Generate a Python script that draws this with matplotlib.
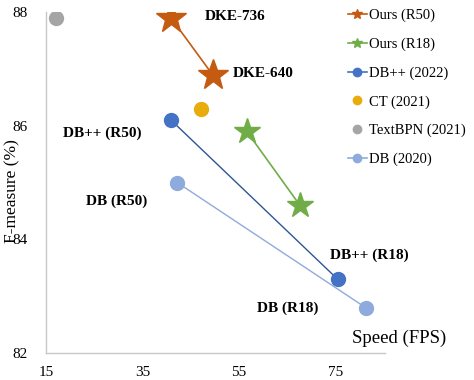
import matplotlib
matplotlib.use("Agg")
import matplotlib.pyplot as plt
from matplotlib.lines import Line2D

plt.rcParams['font.family'] = ['Liberation Serif', 'DejaVu Serif']

# data (FPS, F-measure)
ours_r50_x = [40.9, 49.5]
ours_r50_y = [87.9, 86.9]
ours_r50_names = ['DKE-736', 'DKE-640']
ours_r18_x = [56.6, 67.6]
ours_r18_y = [85.9, 84.6]
dbpp_x = [40.9, 75.4]
dbpp_y = [86.1, 83.3]
dbpp_names = ['DB++ (R50)', 'DB++ (R18)']
ct_x = [47.1]
ct_y = [86.3]
textbpn_x = [17.0]
textbpn_y = [87.9]
db_x = [42.2, 81.2]
db_y = [85.0, 82.8]
db_names = ['DB (R50)', 'DB (R18)']
legend_labels = ['Ours (R50)', 'Ours (R18)', 'DB++ (2022)', 'CT (2021)',
                 'TextBPN (2021)', 'DB (2020)']

fig = plt.figure(figsize=(4.74, 3.80), dpi=100)
ax = fig.add_axes([0.097, 0.071, 0.715, 0.897])

orange = '#C55A11'
green = '#70AD47'
blue = '#4472C4'
gold = '#E8AC0C'
gray = '#A5A5A5'
lblue = '#8FAADC'

# connecting lines
ax.plot(ours_r50_x, ours_r50_y, color=orange, lw=1.2, zorder=2)
ax.plot(ours_r18_x, ours_r18_y, color=green, lw=1.2, zorder=2)
ax.plot(dbpp_x, dbpp_y, color='#2F5597', lw=1.0, zorder=2)
ax.plot(db_x, db_y, color=lblue, lw=1.0, zorder=2)

# markers
ax.plot(ours_r50_x, ours_r50_y, ls='none', marker='*', ms=23, color=orange, zorder=3)
ax.plot(ours_r18_x, ours_r18_y, ls='none', marker='*', ms=19, color=green, zorder=3)
ax.plot(dbpp_x, dbpp_y, ls='none', marker='o', ms=10, color=blue, zorder=3)
ax.plot(ct_x, ct_y, ls='none', marker='o', ms=10, color=gold, zorder=3)
ax.plot(textbpn_x, textbpn_y, ls='none', marker='o', ms=10, color=gray, zorder=3)
ax.plot(db_x, db_y, ls='none', marker='o', ms=10, color=lblue, zorder=3)

# point labels
lab = dict(fontsize=11, fontweight='bold', textcoords='offset pixels', va='center')
ax.annotate(ours_r50_names[0], (ours_r50_x[0], ours_r50_y[0]), xytext=(34, 1), ha='left', **lab)
ax.annotate(ours_r50_names[1], (ours_r50_x[1], ours_r50_y[1]), xytext=(20, 1), ha='left', **lab)
ax.annotate(dbpp_names[0], (dbpp_x[0], dbpp_y[0]), xytext=(-30, -13), ha='right', **lab)
ax.annotate(dbpp_names[1], (dbpp_x[1], dbpp_y[1]), xytext=(-8, 24), ha='left', **lab)
ax.annotate(db_names[0], (db_x[0], db_y[0]), xytext=(-30, -19), ha='right', **lab)
ax.annotate(db_names[1], (db_x[1], db_y[1]), xytext=(-47, -1), ha='right', **lab)

ax.set_xlim(15, 85.2)
ax.set_ylim(82, 88)
ax.set_xticks([15, 35, 55, 75])
ax.set_yticks([82, 84, 86, 88])
ax.tick_params(length=0, labelsize=11)
ax.tick_params(axis='y', pad=13)
ax.tick_params(axis='x', pad=9)
for s in ['top', 'right']:
    ax.spines[s].set_visible(False)
for s in ['left', 'bottom']:
    ax.spines[s].set_color('#C8C8C8')
    ax.spines[s].set_linewidth(1.0)

ax.text(-0.1, 0.475, 'F-measure (%)', transform=ax.transAxes, rotation=90,
        ha='center', va='center', fontsize=12.5)
ax.text(1.18, 0.03, 'Speed (FPS)', transform=ax.transAxes, ha='right',
        va='baseline', fontsize=13.5)

# legend
handles = [
    Line2D([], [], color=orange, marker='*', ms=7, lw=1.2),
    Line2D([], [], color=green, marker='*', ms=7, lw=1.2),
    Line2D([], [], color=blue, marker='o', ms=6, lw=1.2),
    Line2D([], [], color=gold, marker='o', ms=6, ls='none'),
    Line2D([], [], color=gray, marker='o', ms=6, ls='none'),
    Line2D([], [], color=lblue, marker='o', ms=6, lw=1.2),
]
fig.legend(handles, legend_labels, loc='upper left', bbox_to_anchor=(0.715, 1.0),
           frameon=False, fontsize=10.5, handlelength=1.3, handletextpad=0.15,
           labelspacing=1.05, borderaxespad=0.2)

fig.savefig('out.png', dpi=100)
